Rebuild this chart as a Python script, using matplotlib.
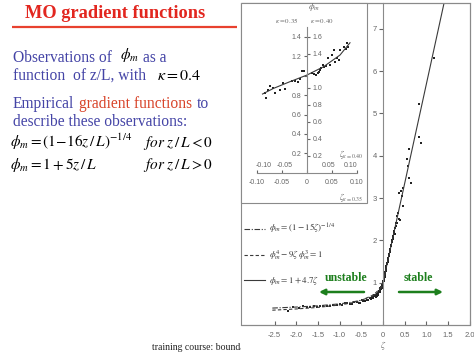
import numpy as np
import matplotlib as mpl
import matplotlib.pyplot as plt
from matplotlib.patches import Rectangle

# ---- main panel: observed phi_m against zeta = z/L ----
zeta_unstable = [-2.18, -2.07, -1.94, -1.84, -1.75, -1.68, -1.60, -1.52, -1.45, -1.38,
                 -1.30, -1.22, -1.15, -1.06, -1.00, -0.94, -0.88, -0.83, -0.77, -0.71,
                 -0.66, -0.60, -0.56, -0.52, -0.48, -0.45, -0.41, -0.37, -0.34, -0.30,
                 -0.28, -0.26, -0.24, -0.22, -0.20, -0.18, -0.17, -0.15, -0.14, -0.13,
                 -0.12, -0.11, -0.10, -0.09, -0.08, -0.07, -0.06, -0.05, -0.045, -0.04,
                 -0.03, -0.025, -0.02, -0.015, -0.01, -0.005]
phi_unstable = [0.34, 0.43, 0.41, 0.44, 0.42, 0.43, 0.45, 0.43, 0.44, 0.46,
                0.45, 0.46, 0.48, 0.48, 0.50, 0.47, 0.51, 0.52, 0.50, 0.50,
                0.54, 0.55, 0.53, 0.53, 0.58, 0.57, 0.56, 0.60, 0.58, 0.64,
                0.61, 0.66, 0.66, 0.63, 0.70, 0.69, 0.65, 0.72, 0.74, 0.69,
                0.76, 0.72, 0.80, 0.77, 0.82, 0.78, 0.88, 0.84, 0.90, 0.86,
                0.92, 0.88, 0.95, 0.93, 0.97, 0.94]
zeta_stable = [0.005, 0.01, 0.015, 0.02, 0.025, 0.03, 0.035, 0.04, 0.045, 0.05,
               0.055, 0.06, 0.065, 0.07, 0.075, 0.08, 0.09, 0.10, 0.105, 0.11,
               0.12, 0.125, 0.13, 0.14, 0.145, 0.15, 0.16, 0.165, 0.17, 0.18,
               0.19, 0.20, 0.205, 0.21, 0.22, 0.23, 0.24, 0.25, 0.26, 0.27,
               0.28, 0.30, 0.31, 0.32, 0.33, 0.35, 0.36, 0.38, 0.39, 0.41,
               0.44, 0.47, 0.47, 0.55, 0.58, 0.61, 0.61, 0.64, 0.83, 0.84,
               0.87, 1.18]
phi_stable = [1.00, 1.05, 1.03, 1.12, 1.08, 1.16, 1.14, 1.22, 1.18, 1.26,
              1.24, 1.30, 1.28, 1.36, 1.33, 1.40, 1.44, 1.46, 1.52, 1.50,
              1.58, 1.55, 1.64, 1.68, 1.64, 1.72, 1.76, 1.80, 1.78, 1.86,
              1.90, 1.95, 2.02, 1.98, 2.06, 2.10, 2.04, 2.17, 2.22, 2.16,
              2.30, 2.35, 2.42, 2.41, 2.58, 2.65, 2.50, 3.12, 2.47, 3.16,
              3.04, 3.24, 2.82, 3.92, 3.75, 4.16, 3.47, 3.35, 4.44, 5.22,
              4.30, 6.30]

# fitted curves
zeta_fit_neg = [-2.55, -2.0, -1.5, -1.0, -0.75, -0.5, -0.25, -0.15, -0.1, -0.07,
                -0.05, -0.03, -0.02, -0.01, 0.0]
phi_fit_a = [0.40, 0.424, 0.454, 0.50, 0.535, 0.586, 0.677, 0.745, 0.795, 0.836,
             0.869, 0.911, 0.936, 0.966, 1.0]
phi_fit_b = [0.35, 0.379, 0.416, 0.473, 0.516, 0.582, 0.697, 0.778, 0.833, 0.873,
             0.904, 0.939, 0.958, 0.978, 1.0]
zeta_fit_pos = [0.0, 1.42]
phi_fit_c = [1.0, 7.67]

main_xticks = [-2.5, -2.0, -1.5, -1.0, -0.5, 0.0, 0.5, 1.0, 1.5, 2.0]
main_xlabels = ['-2.5', '-2.0', '-1.5', '-1.0', '-0.5', '0', '0.5', '1.0', '1.5', '2.0']
main_yticks = [1, 2, 3, 4, 5, 6, 7]

legend_labels = [r'$\phi_m = (1-15\zeta)^{-1/4}$',
                 r'$\phi_m^4 - 9\zeta\,\phi_m^3 = 1$',
                 r'$\phi_m = 1 + 4.7\zeta$']

# ---- inset: near-neutral data (kappa = 0.35 scale) ----
zeta_inset = [-0.084, -0.082, -0.079, -0.075, -0.069, -0.064, -0.055, -0.049, -0.044, -0.031,
              -0.024, -0.019, -0.014, -0.011, -0.007, 0.009, 0.014, 0.018, 0.021, 0.023,
              0.025, 0.027, 0.031, 0.034, 0.038, 0.041, 0.045, 0.049, 0.053, 0.056,
              0.059, 0.063, 0.066, 0.073, 0.078, 0.079, 0.081]
phi_inset = [0.824, 0.766, 0.851, 0.892, 0.868, 0.824, 0.851, 0.920, 0.858, 0.947,
             0.947, 0.937, 0.961, 1.046, 1.049, 1.029, 1.015, 1.005, 1.022, 1.039,
             1.056, 1.074, 1.108, 1.090, 1.097, 1.176, 1.108, 1.210, 1.260, 1.142,
             1.176, 1.159, 1.260, 1.296, 1.270, 1.336, 1.296]
zeta_inset_fit = [-0.089, -0.067, -0.034, 0.0, 0.033, 0.066, 0.086]
phi_inset_fit = [0.81, 0.868, 0.937, 1.005, 1.09, 1.21, 1.336]

inset_xticks = [-0.10, -0.05, 0.0, 0.05, 0.10]
inset_xlabels = ['-0.10', '-0.05', '0', '0.05', '0.10']
inset_top_ticks = [-0.10, -0.05, 0.05, 0.10]
inset_top_labels = ['-0.10', '-0.05', '0.05', '0.10']
inset_yticks = [0.2, 0.4, 0.6, 0.8, 1.0, 1.2, 1.4]
inset_ylabels = ['0.2', '0.4', '0.6', '0.8', '', '1.2', '1.4']
inset_y2ticks = [0.2, 0.4, 0.6, 0.8, 1.0, 1.4, 1.6]
inset_y2labels = ['0.2', '0.4', '0.6', '0.8', '1.0', '1.4', '1.6']
kappa_ratio = 0.40 / 0.35

plt.rcParams['mathtext.fontset'] = 'stix'
serif = 'Liberation Serif'
scan = 'Liberation Sans'
ink = '#3a3a3a'
grey = '#666666'
frame_c = '#8a8a8a'
blue = '#4444a6'
red = '#e2261f'
orange = '#d8442a'
green = '#1d7f1d'

W, H = 474., 355.


def px_box(x0, y0, x1, y1):
    return [x0 / W, 1 - y1 / H, (x1 - x0) / W, (y1 - y0) / H]


fig = plt.figure(figsize=(4.74, 3.55), dpi=100)

# ---- slide text (left half) ----
ax_bg = fig.add_axes(px_box(0, 0, 241, 355))
ax_bg.set_xlim(0, 241)
ax_bg.set_ylim(355, 0)
ax_bg.axis('off')

ax_bg.text(25, 18.5, 'MO gradient functions', color=red, fontsize=13.2, fontweight='bold',
           family=serif, va='baseline')
ax_bg.plot([12, 237], [26.5, 26.5], color='#e8412f', lw=1.6, solid_capstyle='butt')
body = dict(fontsize=11.2, family=serif, va='baseline', color=blue)
ax_bg.text(13, 61.5, 'Observations of', **body)
ax_bg.text(120, 59.5, r'$\phi_m$', fontsize=11, color='k', va='baseline')
ax_bg.text(143, 61.5, 'as a', **body)
ax_bg.text(13, 79.5, 'function  of z/L, with', **body)
ax_bg.text(157, 79.5, r'$\kappa = 0.4$', fontsize=11.5, color='k', va='baseline')
ax_bg.text(13, 107.5, 'Empirical', **body)
ax_bg.text(79, 107.5, 'gradient functions', **dict(body, color=orange))
ax_bg.text(197, 107.5, 'to', **body)
ax_bg.text(13, 126, 'describe these observations:', **body)
eq = dict(fontsize=11, color='k', va='baseline')
ax_bg.text(10, 147.5, r'$\phi_m = (1\!-\!16z\,/\,L)^{-1/4}$', **eq)
ax_bg.text(143, 147.5, r'$for\ z\,/\,L < 0$', **eq)
ax_bg.text(10, 168.5, r'$\phi_m = 1 + 5z\,/\,L$', **eq)
ax_bg.text(143, 168.5, r'$for\ z\,/\,L > 0$', **eq)
ax_bg.text(152, 350, 'training course: boundary layer', fontsize=7, family=serif,
           va='baseline', color='#222222', clip_on=True)

# ---- main scanned figure ----
ax = fig.add_axes(px_box(241, 3, 470, 325))
ax.set_zorder(2)
ax.set_xlim(-3.272, 2.005)
ax.set_ylim(0, 7.61)
ax.plot(zeta_fit_neg, phi_fit_a, color=ink, lw=0.8, ls=(0, (5, 1.5, 1, 1.5)), label=legend_labels[0])
ax.plot(zeta_fit_neg, phi_fit_b, color=ink, lw=0.8, ls=(0, (3, 2)), label=legend_labels[1])
ax.plot(zeta_fit_pos, phi_fit_c, color=ink, lw=0.8, label=legend_labels[2])
ax.scatter(zeta_unstable, phi_unstable, s=4, marker='s', color='#222222', lw=0)
ax.scatter(zeta_stable, phi_stable, s=4, marker='s', color='#222222', lw=0)

for side in ['top', 'right', 'bottom', 'left']:
    ax.spines[side].set_color(frame_c)
    ax.spines[side].set_linewidth(0.8)
ax.spines['left'].set_position(('data', 0))
ax.add_patch(Rectangle((0, 0), 1, 1, transform=ax.transAxes, fill=False, ec=frame_c, lw=0.8,
                       clip_on=False))
ax.set_xticks(main_xticks, main_xlabels)
ax.set_yticks(main_yticks)
ax.tick_params(axis='x', direction='in', length=3, pad=5, labelsize=5.5, colors=grey)
ax.tick_params(axis='y', direction='out', length=3, pad=1.5, labelsize=5.5, colors=grey)
for lab in ax.get_xticklabels() + ax.get_yticklabels():
    lab.set_family(scan)
ax.set_xlabel(r'$\zeta$', fontsize=6.5, color=grey)
ax.xaxis.set_label_coords(3.272 / 5.277, -0.045)

leg = ax.legend(loc='upper left', bbox_to_anchor=(0.005, 0.325), frameon=False, fontsize=6.5,
                handlelength=2.3, handletextpad=0.5, labelspacing=1.35, borderaxespad=0,
                borderpad=0.2)
for t in leg.get_texts():
    t.set_color(ink)

# ---- inset ----
ax_in = fig.add_axes(px_box(241, 3, 367, 203))
ax_in.set_zorder(3)
ax_in.set_xlim(-0.132, 0.12)
ax_in.set_ylim(-0.308, 1.744)
ax_in.plot(zeta_inset_fit, phi_inset_fit, color=ink, lw=0.8)
ax_in.scatter(zeta_inset, phi_inset, s=4, marker='s', color='#222222', lw=0)
ax_in.spines['top'].set_visible(False)
ax_in.spines['right'].set_visible(False)
ax_in.spines['left'].set_position(('data', 0))
ax_in.spines['bottom'].set_position(('data', 0))
ax_in.spines['left'].set_bounds(0, 1.5)
ax_in.spines['bottom'].set_bounds(-0.10, 0.10)
for side in ['left', 'bottom']:
    ax_in.spines[side].set_color(frame_c)
    ax_in.spines[side].set_linewidth(0.8)
ax_in.add_patch(Rectangle((0, 0), 1, 1, transform=ax_in.transAxes, fill=False, ec=frame_c,
                          lw=0.8, clip_on=False))
ax_in.set_xticks(inset_xticks, inset_xlabels)
ax_in.set_yticks(inset_yticks, inset_ylabels)
ax_in.tick_params(axis='x', direction='in', length=2.5, pad=4, labelsize=5, colors=grey)
ax_in.tick_params(axis='y', direction='out', length=2.5, pad=1.5, labelsize=5, colors=grey)

x0_frac = (0 - ax_in.get_xlim()[0]) / (ax_in.get_xlim()[1] - ax_in.get_xlim()[0])
y0_frac = (0 - ax_in.get_ylim()[0]) / (ax_in.get_ylim()[1] - ax_in.get_ylim()[0])
sec_y = ax_in.secondary_yaxis(x0_frac, functions=(lambda p: p * kappa_ratio,
                                                   lambda p: p / kappa_ratio))
sec_y.set_yticks(inset_y2ticks, inset_y2labels)
sec_y.tick_params(direction='out', length=2.5, pad=1.5, labelsize=5, colors=grey)
sec_x = ax_in.secondary_xaxis(y0_frac, functions=(lambda z: z * kappa_ratio,
                                                   lambda z: z / kappa_ratio))
sec_x.set_alignment('top')
sec_x.set_xticks(inset_top_ticks, inset_top_labels)
sec_x.tick_params(length=0, pad=3, labelsize=5, colors=grey)
for sec in (sec_x, sec_y):
    for sp in sec.spines.values():
        sp.set_visible(False)
for lab in (ax_in.get_xticklabels() + ax_in.get_yticklabels() +
            sec_x.get_xticklabels() + sec_y.get_yticklabels()):
    lab.set_family(scan)

ax_in.text(0.003, 1.70, r'$\phi_m$', fontsize=6.5, color=grey, va='center')
ax_in.text(-0.04, 1.56, r'$\kappa = 0.35$', ha='center', va='center', fontsize=5, color=grey)
ax_in.text(0.03, 1.56, r'$\kappa = 0.40$', ha='center', va='center', fontsize=5, color=grey)
ax_in.text(0.064, 0.19, r'$\zeta_{\kappa = 0.40}$', va='center', fontsize=6, color=grey)
ax_in.text(0.064, -0.25, r'$\zeta_{\kappa = 0.35}$', va='center', fontsize=6, color=grey)

# ---- stability arrows on top ----
ax_top = fig.add_axes([0, 0, 1, 1])
ax_top.set_zorder(5)
ax_top.set_xlim(0, W)
ax_top.set_ylim(H, 0)
ax_top.axis('off')
lab_style = dict(color=green, fontsize=8.5, fontweight='bold', family=serif, ha='center',
                 va='center')
ax_top.text(346, 278, 'unstable', **lab_style)
ax_top.text(418, 278, 'stable', **lab_style)
arrow = dict(arrowstyle='-|>', color=green, lw=1.8, mutation_scale=8, shrinkA=0, shrinkB=0)
ax_top.annotate('', xy=(319, 292), xytext=(364, 292), arrowprops=arrow)
ax_top.annotate('', xy=(443, 292), xytext=(399, 292), arrowprops=arrow)

fig.savefig('out.png', dpi=100)
